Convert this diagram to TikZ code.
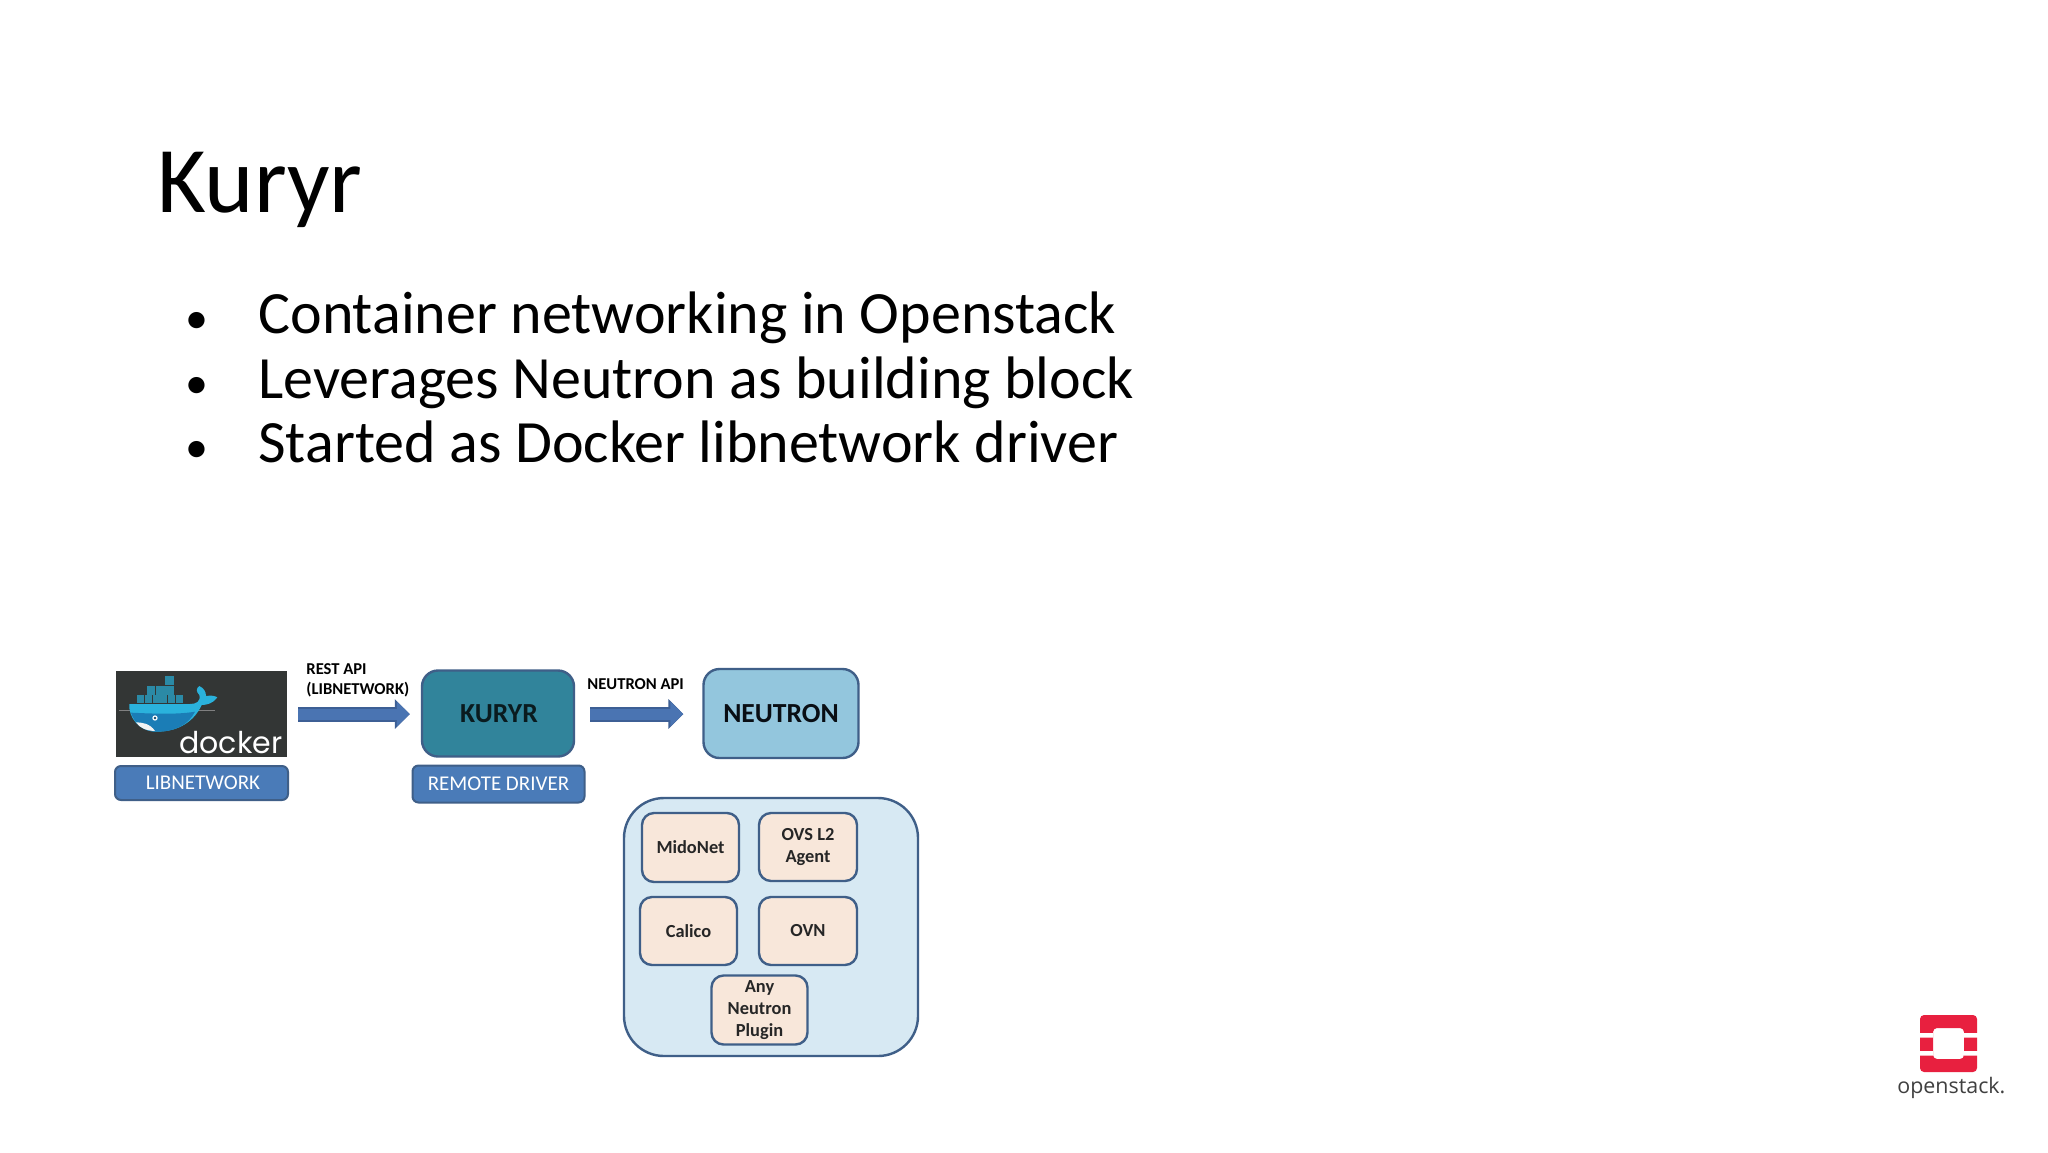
\documentclass[tikz,border=0pt]{standalone}
\usepackage{fontspec}
\setmainfont{Carlito}
\newfontfamily\logofont{Poppins}
\newfontfamily\stackfont{Open Sans}
\usetikzlibrary{arrows.meta}
\definecolor{edge_blue}{HTML}{3F5F88}
\definecolor{label_blue}{HTML}{4A7BB8}
\definecolor{kuryr_fill}{HTML}{31849B}
\definecolor{neutron_fill}{HTML}{93C6DD}
\definecolor{panel_fill}{HTML}{D7E9F3}
\definecolor{plugin_fill}{HTML}{F8E7DA}
\definecolor{arrow_fill}{HTML}{4A74B2}
\definecolor{arrow_edge}{HTML}{3D5F95}
\definecolor{dock_bg}{HTML}{333635}
\definecolor{dock_box}{HTML}{2B8AA6}
\definecolor{dock_hull}{HTML}{2AB2DC}
\definecolor{dock_belly}{HTML}{1B7DB6}
\definecolor{os_red}{HTML}{E8203F}
\tikzset{
  slide_title/.style={anchor=base west,inner sep=0,font=\fontsize{47}{50}\selectfont},
  slide_text/.style={anchor=base west,inner sep=0,font=\fontsize{30}{34}\selectfont},
  slide_bullet/.style={anchor=base west,inner sep=0,font=\fontsize{23}{34}\selectfont},
  api_text/.style={anchor=west,inner sep=0,align=left,font=\fontsize{8.3}{10}\selectfont\bfseries,text=black},
  label_box/.style={rectangle,rounded corners=3pt,draw=edge_blue,line width=1pt,fill=label_blue,text=white,inner sep=0,font=\fontsize{10.5}{12}\selectfont},
  main_box/.style={rectangle,rounded corners=8pt,draw=edge_blue,line width=1.2pt,inner sep=0,font=\fontsize{13.8}{16}\selectfont\bfseries},
  plugin/.style={rectangle,rounded corners=6pt,draw=edge_blue,line width=1.2pt,fill=plugin_fill,inner sep=0,align=center,text=black!85,font=\fontsize{9.2}{11.2}\selectfont\bfseries},
  block_arrow/.style={draw=arrow_edge,line width=7.5pt,-{Triangle[length=7.5pt,width=14.5pt,color=arrow_edge]},
    postaction={draw=arrow_fill,line width=5.5pt,-{Triangle[length=6.5pt,width=12pt,color=arrow_fill]}}},
}
\begin{document}
\begin{tikzpicture}[x=0.5pt,y=-0.5pt]
  \useasboundingbox (0,0) rectangle (2048,1152);
  \fill[white] (0,0) rectangle (2048,1152);

  % Slide text
  % -------------------------------------------------------------
  \node (title) at (157,212) [slide_title] {Kuryr};
  \foreach \i/\y/\t in {1/333.5/Container networking in Openstack,2/398.5/Leverages Neutron as building block,3/462.5/Started as Docker libnetwork driver} {
    \node (bullet_\i) at (185,\y) [slide_bullet] {•};
    \node (line_\i) at (258,\y) [slide_text] {\t};
  }

  % Docker logo
  % -------------------------------------------------------------
  \node (docker) at (201.5,714) [rectangle,fill=dock_bg,inner sep=0,minimum width=85.5pt,minimum height=43pt] {};
  \begin{scope}[shift={(100,660)},scale=1/3]
    \draw[gray,line width=.4pt] (58,150) -- (345,150);
    \foreach \x in {112,135,158,181,204,227} \fill[dock_box] (\x,106) rectangle +(21,23);
    \foreach \x in {140,168,195} \fill[dock_box] (\x,77) rectangle +(26,27);
    \fill[dock_box] (195,48) rectangle +(27,27);
    \fill[dock_hull] (88,132) -- (270,132) .. controls (288,132) and (303,125) .. (298,105)
      .. controls (288,95) and (288,85) .. (298,78) .. controls (312,85) and (318,95) .. (318,108)
      .. controls (335,105) and (345,108) .. (352,112) .. controls (340,130) and (320,135) .. (305,135)
      .. controls (285,180) and (240,215) .. (170,215) .. controls (115,215) and (85,170) .. (88,132) -- cycle;
    \fill[dock_belly] (93,158) .. controls (140,160) and (230,165) .. (285,155)
      .. controls (265,195) and (225,215) .. (170,215) .. controls (130,215) and (103,190) .. (93,158) -- cycle;
    \fill[white!90!gray] (108,187) .. controls (125,187) and (150,190) .. (165,213)
      .. controls (140,212) and (120,205) .. (108,187) -- cycle;
    \fill[white] (165,174) circle (8);
    \fill[dock_belly!60!black] (165,174) circle (4);
  \end{scope}
  \node (docker_word) at (179,753) [anchor=base west,inner sep=0,text=white,font=\fontsize{15}{18}\logofont] {docker};

  % Main blocks
  % -------------------------------------------------------------
  \node (libnetwork) at (201.5,783) [label_box,minimum width=86.5pt,minimum height=17pt] {\hspace{1.5pt}LIBNETWORK};
  \node (kuryr) at (498,713.5) [main_box,fill=kuryr_fill,text=black!80!kuryr_fill,minimum width=76pt,minimum height=43pt] {\hspace{1pt}KURYR};
  \node (driver) at (498.5,784) [label_box,minimum width=86pt,minimum height=18.5pt] {REMOTE DRIVER};
  \node (neutron) at (781,713.5) [main_box,fill=neutron_fill,text=black!85!edge_blue,minimum width=77.5pt,minimum height=44.5pt] {NEUTRON\hspace{1pt}};

  \draw[block_arrow,shorten <=5.5pt,shorten >=5.5pt] (docker.east) -- (docker.east -| kuryr.west);
  \draw[block_arrow,shorten <=7.5pt,shorten >=9.5pt] (docker.east -| kuryr.east) -- (docker.east -| neutron.west);

  \node (rest_api) at (306,680) [api_text] {REST API\\[0pt](LIBNETWORK)};
  \node (neutron_api) at (587,684) [api_text] {NEUTRON API};

  % Neutron plugins
  % -------------------------------------------------------------
  \node (panel) at (771,927) [rectangle,rounded corners=20pt,draw=edge_blue,line width=1.2pt,fill=panel_fill,inner sep=0,minimum width=147pt,minimum height=129pt] {};
  \node (midonet) at (690.5,847.5) [plugin,minimum width=48.5pt,minimum height=34.5pt] {MidoNet};
  \node (ovs) at (808,847) [plugin,minimum width=49pt,minimum height=34pt] {OVS L2\\Agent};
  \node (calico) at (688.5,931) [plugin,minimum width=48.5pt,minimum height=34pt] {Calico};
  \node (ovn) at (808,931) [plugin,minimum width=49pt,minimum height=34pt] {OVN};
  \node (any) at (759.5,1010) [plugin,minimum width=48pt,minimum height=34.5pt] {Any\\Neutron\\Plugin};

  % OpenStack logo
  % -------------------------------------------------------------
  \fill[os_red,rounded corners=2pt,even odd rule] (1920,1015) rectangle (1977,1072)
    (1933,1028) rectangle (1964,1059);
  \fill[white] (1918,1033) rectangle (1933,1037.5) (1918,1051) rectangle (1933,1055.5);
  \fill[white] (1964,1033) rectangle (1979,1037.5) (1964,1051) rectangle (1979,1055.5);
  \node (os_word) at (1897,1093) [anchor=base west,inner sep=0,text=black!75,font=\fontsize{10.7}{12}\stackfont] {openstack.};
\end{tikzpicture}
\end{document}
